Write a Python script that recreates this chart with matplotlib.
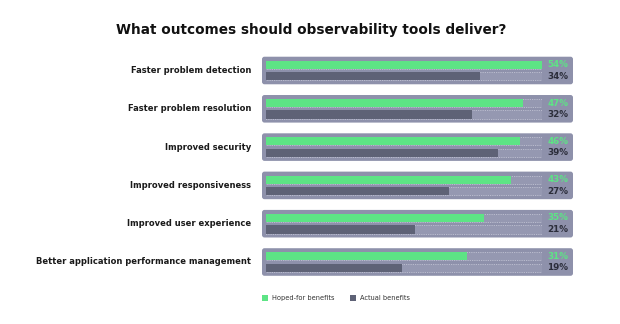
import matplotlib
matplotlib.use("Agg")
import matplotlib.pyplot as plt
import matplotlib.transforms as mtransforms
from matplotlib.patches import FancyBboxPatch, Patch

categories = ["Faster problem detection", "Faster problem resolution", "Improved security",
              "Improved responsiveness", "Improved user experience",
              "Better application performance management"]
hoped = [54, 47, 46, 43, 35, 31]
actual = [34, 32, 39, 27, 21, 19]
series_names = ["Hoped-for benefits", "Actual benefits"]

GREEN = "#5de485"
DARK = "#5e6276"
BOX = "#8e91ab"
TRACK = "#9598b1"
TRACK_EDGE = "#c0c2d2"
LBL_DARK = "#2b2d3a"

plt.rcParams['font.family'] = ['DejaVu Sans']

W, H = 620, 324
fig = plt.figure(figsize=(W / 100, H / 100), dpi=100)
fig.patch.set_facecolor("white")

# axes spans the bar track (pixels 266 -> 541.7), rows centered at 70.5 + 38.3*i
row_px = 38.3
top_px = 70.5 - row_px / 2
bot_px = 70.5 + 5 * row_px + row_px / 2
ax = fig.add_axes([266 / W, 1 - bot_px / H, (541.7 - 266) / W, (bot_px - top_px) / H])
ax.set_xscale("log")
v0 = 6.9
vmax = max(hoped)
ax.set_xlim(v0, vmax)
ax.set_ylim(len(categories) - 0.5, -0.5)
ax.axis("off")

blend = mtransforms.blended_transform_factory(fig.transFigure, ax.transData)

bh = 0.215
off = 0.15
box_h = 0.72
rs = 2.5 / W
asp = (2.5 / row_px) / rs
for i, cat in enumerate(categories):
    box = FancyBboxPatch((262 / W, i - box_h / 2), (573 - 262) / W, box_h,
                         boxstyle=f"round,pad=0,rounding_size={rs}",
                         mutation_aspect=asp, transform=blend,
                         facecolor=BOX, edgecolor="none", clip_on=False, zorder=0)
    fig.add_artist(box)
    for yy in (i - off, i + off):
        ax.barh(yy, vmax - v0, left=v0, height=bh, color=TRACK, edgecolor=TRACK_EDGE,
                linewidth=0.6, linestyle=(0, (1.5, 1.2)), zorder=1)
    fig.text(251 / W, i, cat, transform=blend, ha="right", va="center",
             fontsize=6.05, fontweight="bold", color="#1a1a1a")

ax.barh([i - off for i in range(len(categories))], [h - v0 for h in hoped], left=v0,
        height=bh, color=GREEN, zorder=2)
ax.barh([i + off for i in range(len(categories))], [a - v0 for a in actual], left=v0,
        height=bh, color=DARK, zorder=2)

for i in range(len(categories)):
    fig.text(568.5 / W, i - off, f"{hoped[i]}%", transform=blend, ha="right", va="center",
             fontsize=6.3, fontweight="bold", color=GREEN)
    fig.text(568.5 / W, i + off, f"{actual[i]}%", transform=blend, ha="right", va="center",
             fontsize=6.3, fontweight="bold", color=LBL_DARK)

fig.text(311 / W, 1 - 30 / H, "What outcomes should observability tools deliver?",
         ha="center", va="center", fontsize=9.8, fontweight="bold", color="#111111")

handles = [Patch(facecolor=GREEN, edgecolor="none"), Patch(facecolor=DARK, edgecolor="none")]
fig.legend(handles, series_names, loc="center", bbox_to_anchor=(336 / W, 1 - 298 / H),
           ncol=2, frameon=False, fontsize=4.8, handlelength=0.9, handleheight=0.9,
           handletextpad=0.6, columnspacing=2.2, labelcolor="#333333")

fig.savefig("out.png", dpi=100, facecolor="white")
